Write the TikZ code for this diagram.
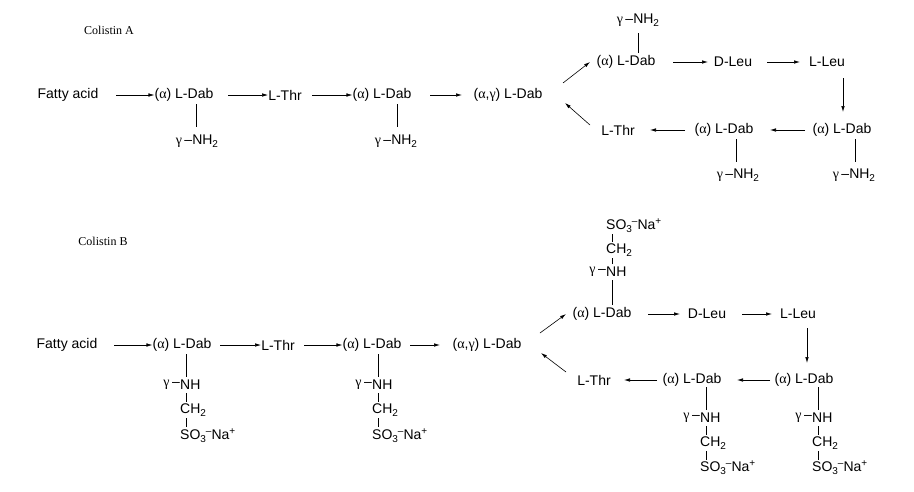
\documentclass[tikz,border=0pt]{standalone}
\usepackage{fontspec}
\setmainfont{Liberation Sans}
\newfontfamily\ser{Liberation Serif}
\usetikzlibrary{arrows.meta}
\newcommand{\sub}[1]{\raisebox{-3pt}{\fontsize{10}{10}\selectfont #1}}
\newcommand{\sups}[1]{\raisebox{5pt}{\fontsize{10}{10}\selectfont #1}}
\newcommand{\ga}{{\ser γ}}
\newcommand{\al}{{\ser α}}
\begin{document}
\begin{tikzpicture}[x=1pt,y=-1pt,
  t/.style={inner sep=0pt,font=\fontsize{14}{14}\selectfont},
  ttl/.style={inner sep=0pt,font=\ser\fontsize{12}{12}\selectfont},
  ar/.style={-{Latex[length=6pt,width=3.5pt]},line width=0.6pt},
  bd/.style={line width=0.6pt}]
\useasboundingbox (0,0) rectangle (914,491);
% Colistin A
\node[ttl] (ta) at (109,30) {Colistin A};
\node[t] (a1) at (68,95) {Fatty acid};
\node[t] (a2) at (184,95) {(\al) L-Dab};
\node[t] (a3) at (285,95) {L-Thr};
\node[t] (a4) at (382,95) {(\al) L-Dab};
\node[t] (a5) at (508,95) {(\al,\ga) L-Dab};
\node[t] (a6) at (626,62) {(\al) L-Dab};
\node[t] (a7) at (733,62) {D-Leu};
\node[t] (a8) at (827,62) {L-Leu};
\node[t] (a9) at (842,130) {(\al) L-Dab};
\node[t] (a10) at (724,130) {(\al) L-Dab};
\node[t] (a11) at (618,130) {L-Thr};
\node[t] (n2) at (197,141) {\ga\,–NH\sub{2}};
\node[t] (n4) at (396,141) {\ga\,–NH\sub{2}};
\node[t] (n6) at (638,20) {\ga\,–NH\sub{2}};
\node[t] (n10) at (738,175) {\ga\,–NH\sub{2}};
\node[t] (n9) at (854,175) {\ga\,–NH\sub{2}};
\draw[ar] (116,95) -- (a2.west);
\draw[ar] (228,95) -- (a3.west);
\draw[ar] (312,95) -- (a4.west);
\draw[ar] (430,95) -- (462,95);
\draw[ar] (563,83) -- (590,62);
\draw[ar] (673,62) -- (708,62);
\draw[ar] (767,62) -- (800,62);
\draw[ar] (843,78) -- (843,112);
\draw[ar] (805,130) -- (770,130);
\draw[ar] (685,130) -- (650,130);
\draw[ar] (590,125) -- (565,103);
\draw[bd] (196,104) -- (196,127);
\draw[bd] (397,104) -- (397,127);
\draw[bd] (638,53) -- (638,33);
\draw[bd] (736,139) -- (736,162);
\draw[bd] (855,139) -- (855,162);
% Colistin B
\node[ttl] (tb) at (103,241) {Colistin B};
\node[t] (b1) at (67,345) {Fatty acid};
\node[t] (b2) at (182,345) {(\al) L-Dab};
\node[t] (b3) at (278,345) {L-Thr};
\node[t] (b4) at (372,345) {(\al) L-Dab};
\node[t] (b5) at (487,345) {(\al,\ga) L-Dab};
\node[t] (b6) at (602,314) {(\al) L-Dab};
\node[t] (b7) at (707,314) {D-Leu};
\node[t] (b8) at (798,314) {L-Leu};
\node[t] (b9) at (804,380) {(\al) L-Dab};
\node[t] (b10) at (692,380) {(\al) L-Dab};
\node[t] (b11) at (594,380) {L-Thr};
\foreach \n/\x/\ya/\yb/\yc in {2/186/385/410/436, 4/378/385/410/436, 10/706/418/443/468, 9/818/418/443/468, 6/612/272/250/226}{
  \node[t,anchor=east] (g\n) at (\x-6,\ya) {\ga\,–};
  \node[t,anchor=west] (h\n) at (\x-6,\ya) {NH};
  \node[t,anchor=west] (c\n) at (\x-6,\yb) {CH\sub{2}};
  \node[t,anchor=west] (s\n) at (\x-6,\yc) {SO\sub{3}\sups{–}Na\sups{+}};
}
\draw[ar] (114,345) -- (b2.west);
\draw[ar] (220,345) -- (b3.west);
\draw[ar] (304,345) -- (b4.west);
\draw[ar] (410,345) -- (440,345);
\draw[ar] (540,333) -- (566,314);
\draw[ar] (648,314) -- (680,314);
\draw[ar] (742,314) -- (772,314);
\draw[ar] (807,328) -- (807,363);
\draw[ar] (770,380) -- (737,380);
\draw[ar] (657,380) -- (624,380);
\draw[ar] (566,372) -- (541,353);
\foreach \x/\o in {186/0,378/0,706/33,818/33}{
  \draw[bd] (\x,354+\o) -- (\x,377+\o);
  \draw[bd] (\x,393+\o) -- (\x,402+\o);
  \draw[bd] (\x,418+\o) -- (\x,427+\o);
}
\draw[bd] (612,305) -- (612,280);
\draw[bd] (612,264) -- (612,258);
\draw[bd] (612,242) -- (612,234);
\end{tikzpicture}
\end{document}
